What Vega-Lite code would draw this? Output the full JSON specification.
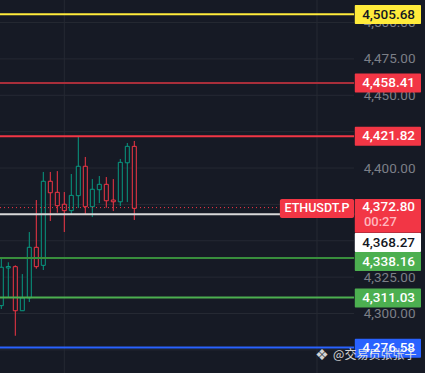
{
"$schema":"https://vega.github.io/schema/vega-lite/v6.json",
"width":425,"height":373,"padding":0,"autosize":{"type":"none"},
"background":"#161a25",
"config":{"view":{"stroke":null},"text":{"font":"Roboto"}},
"datasets":{
"candles":[
{"i":0,"top":4331.8,"bottom":4305.4,"high":4338.1,"low":4303.1,"dir":"up"},
{"i":1,"top":4332.3,"bottom":4331.3,"high":4335.2,"low":4310.9,"dir":"up"},
{"i":2,"top":4332.2,"bottom":4301.9,"high":4333.1,"low":4284.7,"dir":"down"},
{"i":3,"top":4310.7,"bottom":4301.9,"high":4327.1,"low":4301.9,"dir":"up"},
{"i":4,"top":4345.5,"bottom":4310.7,"high":4356,"low":4307.9,"dir":"up"},
{"i":5,"top":4345.5,"bottom":4332.2,"high":4378,"low":4330.8,"dir":"down"},
{"i":6,"top":4390.9,"bottom":4333.1,"high":4397.3,"low":4329.9,"dir":"up"},
{"i":7,"top":4390.9,"bottom":4383,"high":4397.3,"low":4363.6,"dir":"down"},
{"i":8,"top":4383.3,"bottom":4374.1,"high":4397.9,"low":4369.3,"dir":"down"},
{"i":9,"top":4375.1,"bottom":4370.7,"high":4383.5,"low":4356,"dir":"down"},
{"i":10,"top":4381.2,"bottom":4370.7,"high":4395.9,"low":4368.4,"dir":"up"},
{"i":11,"top":4401.2,"bottom":4381,"high":4422,"low":4372.5,"dir":"up"},
{"i":12,"top":4401.2,"bottom":4373.4,"high":4407.6,"low":4368.4,"dir":"down"},
{"i":13,"top":4385.4,"bottom":4373.4,"high":4392.4,"low":4366.3,"dir":"up"},
{"i":14,"top":4388.8,"bottom":4385.1,"high":4394.5,"low":4375.9,"dir":"up"},
{"i":15,"top":4388.8,"bottom":4377.5,"high":4393.8,"low":4372.7,"dir":"down"},
{"i":16,"top":4378,"bottom":4376.8,"high":4392.4,"low":4370.4,"dir":"down"},
{"i":17,"top":4403.9,"bottom":4376.8,"high":4406.2,"low":4373.9,"dir":"up"},
{"i":18,"top":4414.9,"bottom":4403.6,"high":4417.2,"low":4376.6,"dir":"up"},
{"i":19,"top":4414.9,"bottom":4372.3,"high":4418.6,"low":4364.3,"dir":"down"}
],
"levels":[
{"name":"yellow","value":4505.68,"pos":4505.5,"ink":"dark"},
{"name":"red-dim","value":4458.41,"pos":4458.4,"ink":"light"},
{"name":"red","value":4421.82,"pos":4421.8,"ink":"light"},
{"name":"white","value":4368.27,"pos":4348.8,"ink":"dark"},
{"name":"green-dim","value":4338.16,"pos":4335.7,"ink":"light"},
{"name":"green","value":4311.03,"pos":4310.6,"ink":"light"},
{"name":"blue","value":4276.58,"pos":4276.1,"ink":"light"}
],
"ticks":[{"v":4275},{"v":4300},{"v":4325},{"v":4350},{"v":4375},{"v":4400},{"v":4425},{"v":4450},{"v":4475},{"v":4500}]
},
"layer":[
{"data":{"name":"ticks"},"mark":{"type":"rule","stroke":"#252933","strokeWidth":1},
 "encoding":{
  "x":{"datum":-0.186,"type":"quantitative","scale":{"domain":[-0.186,60.53],"nice":false,"zero":false,"padding":0},"axis":null},
  "x2":{"datum":50.4},
  "y":{"field":"v","type":"quantitative","scale":{"domain":[4259.1,4515.5],"nice":false,"zero":false,"padding":0},
   "axis":{"orient":"left","offset":-415,"values":[4275,4300,4325,4350,4375,4400,4425,4450,4475,4500],"format":",.2f","title":null,"grid":false,"domain":false,"ticks":false,"labelPadding":0,"labelColor":"#7c7f87","labelFont":"Roboto","labelFontSize":13.5,"labelOverlap":false,"labelBound":false,"labelFlush":false}}}},
{"data":{"values":[{"t":9},{"t":45.1}]},"mark":{"type":"rule","stroke":"#252933","strokeWidth":1},
 "encoding":{"x":{"field":"t","type":"quantitative"}}},
{"data":{"name":"candles"},"mark":{"type":"rule","strokeWidth":1},
 "encoding":{"x":{"field":"i","type":"quantitative"},"y":{"field":"high","type":"quantitative"},"y2":{"field":"low"},
  "stroke":{"field":"dir","type":"nominal","legend":null,"scale":{"domain":["up","down","yellow","red-dim","red","white","green-dim","green","blue"],"range":["#089981","#f23645","#ffeb3b","#a82e3a","#f23645","#d8d8d8","#388e3c","#4caf50","#2962ff"]}}}},
{"data":{"name":"candles"},"mark":{"type":"bar","size":4,"fill":"#161a25","strokeWidth":1},
 "encoding":{"x":{"field":"i","type":"quantitative"},"y":{"field":"top","type":"quantitative"},"y2":{"field":"bottom"},
  "stroke":{"field":"dir","type":"nominal","legend":null}}},
{"data":{"name":"levels"},"mark":{"type":"rule","strokeWidth":2},
 "encoding":{"x":{"datum":-0.186,"type":"quantitative"},"x2":{"datum":50.4},"y":{"field":"value","type":"quantitative"},
  "stroke":{"field":"name","type":"nominal","legend":null}}},
{"data":{"values":[{"price":4372.8}]},"mark":{"type":"rule","stroke":"#f23645","strokeWidth":1,"strokeDash":[1,3]},
 "encoding":{"x":{"datum":-0.186,"type":"quantitative"},"x2":{"datum":39.8},"y":{"field":"price","type":"quantitative"}}},
{"data":{"name":"levels"},"mark":{"type":"bar","orient":"horizontal","size":19,"cornerRadius":1},
 "encoding":{"x":{"datum":50.5,"type":"quantitative"},"x2":{"datum":59.96},"y":{"field":"pos","type":"quantitative"},
  "color":{"field":"name","type":"nominal","legend":null,"scale":{"domain":["yellow","red-dim","red","white","green-dim","green","blue"],"range":["#ffeb3b","#f23645","#f23645","#ffffff","#4caf50","#4caf50","#2962ff"]}}}},
{"data":{"values":[{"a":4378.7,"b":4355.5}]},"mark":{"type":"bar","orient":"horizontal","color":"#f23645","cornerRadius":1},
 "encoding":{"x":{"datum":50.5,"type":"quantitative"},"x2":{"datum":59.96},"y":{"field":"a","type":"quantitative"},"y2":{"field":"b"}}},
{"data":{"values":[{"a":4378.7,"b":4365.6}]},"mark":{"type":"bar","orient":"horizontal","color":"#f23645","cornerRadius":2},
 "encoding":{"x":{"datum":39.8,"type":"quantitative"},"x2":{"datum":50.4},"y":{"field":"a","type":"quantitative"},"y2":{"field":"b"}}},
{"data":{"name":"levels"},"transform":[{"filter":"datum.ink==='light'"}],"mark":{"type":"text","align":"right","baseline":"middle","color":"#ffffff","fontSize":13.5,"fontWeight":500},
 "encoding":{"x":{"datum":59.1,"type":"quantitative"},"y":{"field":"pos","type":"quantitative"},"text":{"field":"value","type":"quantitative","format":",.2f"}}},
{"data":{"name":"levels"},"transform":[{"filter":"datum.ink==='dark'"}],"mark":{"type":"text","align":"right","baseline":"middle","color":"#131722","fontSize":13.5,"fontWeight":500},
 "encoding":{"x":{"datum":59.1,"type":"quantitative"},"y":{"field":"pos","type":"quantitative"},"text":{"field":"value","type":"quantitative","format":",.2f"}}},
{"data":{"values":[{"value":4372.8,"pos":4372.9}]},"mark":{"type":"text","align":"right","baseline":"middle","color":"#ffffff","fontSize":13.5,"fontWeight":500},
 "encoding":{"x":{"datum":59.1,"type":"quantitative"},"y":{"field":"pos","type":"quantitative"},"text":{"field":"value","type":"quantitative","format":",.2f"}}},
{"data":{"values":[{"label":"00:27","pos":4362.7}]},"mark":{"type":"text","align":"left","baseline":"middle","color":"#ffb7be","fontSize":13,"fontWeight":500},
 "encoding":{"x":{"datum":51.8,"type":"quantitative"},"y":{"field":"pos","type":"quantitative"},"text":{"field":"label"}}},
{"data":{"values":[{"label":"ETHUSDT.P","pos":4372.2}]},"mark":{"type":"text","align":"center","baseline":"middle","color":"#ffffff","fontSize":12.5,"fontWeight":500},
 "encoding":{"x":{"datum":45.1,"type":"quantitative"},"y":{"field":"pos","type":"quantitative"},"text":{"field":"label"}}},
{"data":{"values":[{"label":"❖","pos":4271.5}]},"mark":{"type":"text","align":"center","baseline":"middle","color":"#e8e8e8","font":"DejaVu Sans","fontSize":15,"opacity":0.9},
 "encoding":{"x":{"datum":45.8,"type":"quantitative"},"y":{"field":"pos","type":"quantitative"},"text":{"field":"label"}}},
{"data":{"values":[{"label":"@交易员张张子","pos":4271.5}]},"mark":{"type":"text","align":"left","baseline":"middle","color":"#e8e8e8","font":"Noto Sans CJK SC","fontSize":12,"opacity":0.9},
 "encoding":{"x":{"datum":47.4,"type":"quantitative"},"y":{"field":"pos","type":"quantitative"},"text":{"field":"label"}}}
]
}
